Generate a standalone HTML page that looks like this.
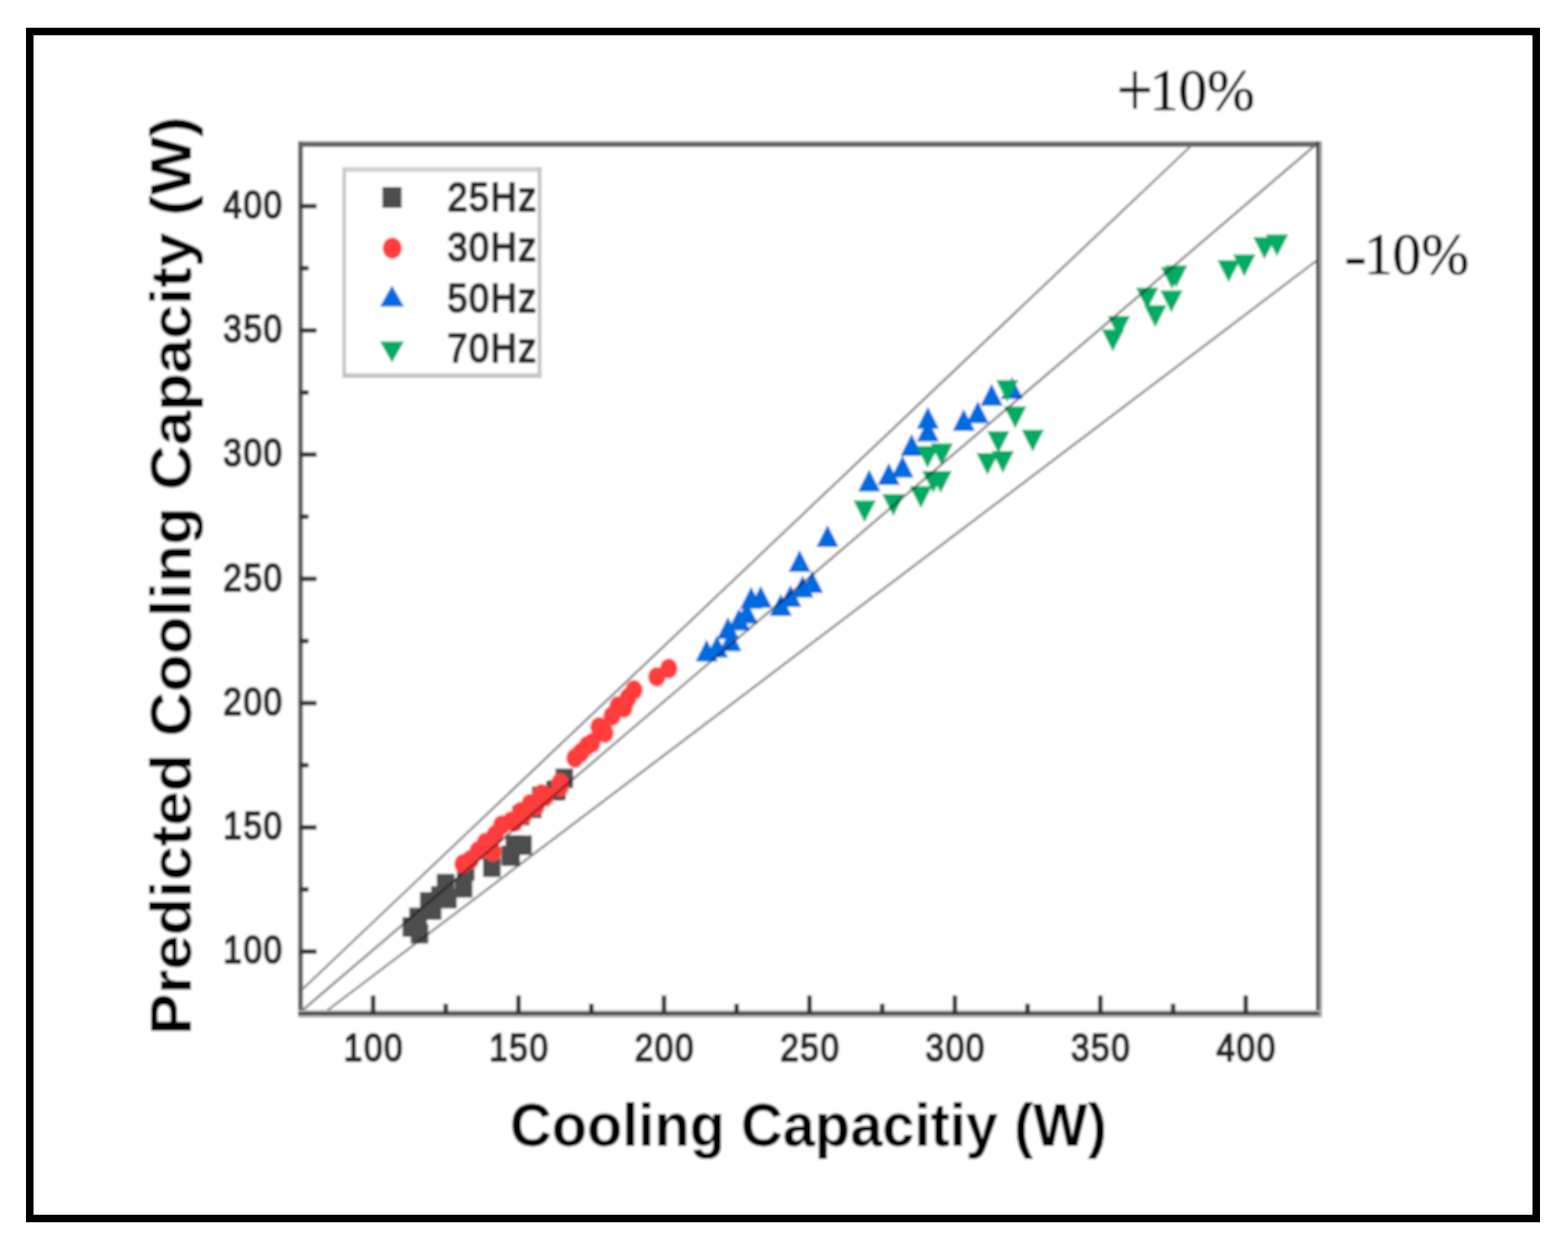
<!DOCTYPE html>
<html><head><meta charset="utf-8"><title>Cooling capacity plot</title>
<style>html,body{margin:0;padding:0;background:#fff;}svg{display:block;}</style>
</head><body>
<svg width="1560" height="1251" viewBox="0 0 1560 1251">
<rect width="1560" height="1251" fill="#fff"/>
<defs><filter id="bl" x="0" y="0" width="1" height="1"><feGaussianBlur stdDeviation="1.0"/></filter></defs>
<g filter="url(#bl)">
<rect width="1560" height="1251" fill="#fff"/>
<g>
<rect x="402.6" y="917.2" width="17.6" height="19.6" fill="#4d4d4d"/>
<rect x="410.7" y="923.9" width="17.6" height="19.6" fill="#4d4d4d"/>
<rect x="409.2" y="907.6" width="17.6" height="19.6" fill="#4d4d4d"/>
<rect x="423.8" y="900.3" width="17.6" height="19.6" fill="#4d4d4d"/>
<rect x="419.9" y="892.0" width="17.6" height="19.6" fill="#4d4d4d"/>
<rect x="439.1" y="888.8" width="17.6" height="19.6" fill="#4d4d4d"/>
<rect x="436.8" y="873.8" width="17.6" height="19.6" fill="#4d4d4d"/>
<rect x="431.1" y="886.2" width="17.6" height="19.6" fill="#4d4d4d"/>
<rect x="454.8" y="878.0" width="17.6" height="19.6" fill="#4d4d4d"/>
<rect x="456.9" y="861.2" width="17.6" height="19.6" fill="#4d4d4d"/>
<rect x="483.0" y="857.5" width="17.6" height="19.6" fill="#4d4d4d"/>
<rect x="501.4" y="845.7" width="17.6" height="19.6" fill="#4d4d4d"/>
<rect x="514.2" y="835.4" width="17.6" height="19.6" fill="#4d4d4d"/>
<rect x="505.6" y="835.3" width="17.6" height="19.6" fill="#4d4d4d"/>
<rect x="502.4" y="846.5" width="17.6" height="19.6" fill="#4d4d4d"/>
<rect x="512.0" y="805.8" width="17.6" height="19.6" fill="#4d4d4d"/>
<rect x="523.9" y="798.6" width="17.6" height="19.6" fill="#4d4d4d"/>
<rect x="531.9" y="786.6" width="17.6" height="19.6" fill="#4d4d4d"/>
<rect x="546.3" y="781.0" width="17.6" height="19.6" fill="#4d4d4d"/>
<rect x="555.5" y="768.6" width="17.6" height="19.6" fill="#4d4d4d"/>
<rect x="548.2" y="780.2" width="17.6" height="19.6" fill="#4d4d4d"/>
<ellipse cx="470.4" cy="859.7" rx="8.7" ry="9.9" fill="#ff3d3d"/>
<ellipse cx="493.0" cy="852.0" rx="8.7" ry="9.9" fill="#ff3d3d"/>
<ellipse cx="485.4" cy="842.4" rx="8.7" ry="9.9" fill="#ff3d3d"/>
<ellipse cx="501.6" cy="825.2" rx="8.7" ry="9.9" fill="#ff3d3d"/>
<ellipse cx="511.2" cy="821.2" rx="8.7" ry="9.9" fill="#ff3d3d"/>
<ellipse cx="520.8" cy="811.6" rx="8.7" ry="9.9" fill="#ff3d3d"/>
<ellipse cx="530.3" cy="803.6" rx="8.7" ry="9.9" fill="#ff3d3d"/>
<ellipse cx="541.5" cy="794.0" rx="8.7" ry="9.9" fill="#ff3d3d"/>
<ellipse cx="559.9" cy="782.8" rx="8.7" ry="9.9" fill="#ff3d3d"/>
<ellipse cx="580.8" cy="752.7" rx="8.7" ry="9.9" fill="#ff3d3d"/>
<ellipse cx="592.0" cy="743.0" rx="8.7" ry="9.9" fill="#ff3d3d"/>
<ellipse cx="599.0" cy="727.0" rx="8.7" ry="9.9" fill="#ff3d3d"/>
<ellipse cx="605.0" cy="733.0" rx="8.7" ry="9.9" fill="#ff3d3d"/>
<ellipse cx="618.0" cy="706.0" rx="8.7" ry="9.9" fill="#ff3d3d"/>
<ellipse cx="624.0" cy="708.0" rx="8.7" ry="9.9" fill="#ff3d3d"/>
<ellipse cx="634.0" cy="690.0" rx="8.7" ry="9.9" fill="#ff3d3d"/>
<ellipse cx="656.9" cy="676.8" rx="8.7" ry="9.9" fill="#ff3d3d"/>
<ellipse cx="668.8" cy="668.5" rx="8.7" ry="9.9" fill="#ff3d3d"/>
<ellipse cx="612.0" cy="716.0" rx="8.7" ry="9.9" fill="#ff3d3d"/>
<ellipse cx="628.0" cy="698.0" rx="8.7" ry="9.9" fill="#ff3d3d"/>
<ellipse cx="495.0" cy="835.0" rx="8.7" ry="9.9" fill="#ff3d3d"/>
<ellipse cx="514.6" cy="822.2" rx="8.7" ry="9.9" fill="#ff3d3d"/>
<ellipse cx="524.1" cy="814.2" rx="8.7" ry="9.9" fill="#ff3d3d"/>
<ellipse cx="536.1" cy="806.2" rx="8.7" ry="9.9" fill="#ff3d3d"/>
<ellipse cx="545.7" cy="796.6" rx="8.7" ry="9.9" fill="#ff3d3d"/>
<ellipse cx="560.1" cy="787.0" rx="8.7" ry="9.9" fill="#ff3d3d"/>
<ellipse cx="587.0" cy="746.0" rx="8.7" ry="9.9" fill="#ff3d3d"/>
<ellipse cx="575.0" cy="758.0" rx="8.7" ry="9.9" fill="#ff3d3d"/>
<ellipse cx="478.0" cy="851.0" rx="8.7" ry="9.9" fill="#ff3d3d"/>
<ellipse cx="463.0" cy="864.0" rx="8.7" ry="9.9" fill="#ff3d3d"/>
<path d="M706.6 639.5L717.8 661.5L695.5 661.5Z" fill="#006ae0"/>
<path d="M716.9 635.4L728.0 657.4L705.8 657.4Z" fill="#006ae0"/>
<path d="M730.5 629.3L741.6 651.3L719.4 651.3Z" fill="#006ae0"/>
<path d="M728.0 617.0L739.1 639.0L716.9 639.0Z" fill="#006ae0"/>
<path d="M738.9 608.5L750.0 630.5L727.8 630.5Z" fill="#006ae0"/>
<path d="M746.8 601.5L757.9 623.5L735.6 623.5Z" fill="#006ae0"/>
<path d="M751.1 586.7L762.2 608.7L740.0 608.7Z" fill="#006ae0"/>
<path d="M760.7 585.7L771.9 607.7L749.6 607.7Z" fill="#006ae0"/>
<path d="M780.8 594.1L791.9 616.1L769.6 616.1Z" fill="#006ae0"/>
<path d="M790.4 585.1L801.5 607.1L779.2 607.1Z" fill="#006ae0"/>
<path d="M802.5 575.5L813.6 597.5L791.4 597.5Z" fill="#006ae0"/>
<path d="M812.1 571.1L823.2 593.1L801.0 593.1Z" fill="#006ae0"/>
<path d="M799.6 550.1L810.8 572.1L788.5 572.1Z" fill="#006ae0"/>
<path d="M827.5 525.0L838.6 547.0L816.4 547.0Z" fill="#006ae0"/>
<path d="M869.2 469.5L880.4 491.5L858.1 491.5Z" fill="#006ae0"/>
<path d="M888.8 463.1L899.9 485.1L877.6 485.1Z" fill="#006ae0"/>
<path d="M902.5 455.5L913.6 477.5L891.4 477.5Z" fill="#006ae0"/>
<path d="M911.6 434.0L922.8 456.0L900.5 456.0Z" fill="#006ae0"/>
<path d="M927.9 406.8L939.0 428.8L916.8 428.8Z" fill="#006ae0"/>
<path d="M927.9 419.4L939.0 441.4L916.8 441.4Z" fill="#006ae0"/>
<path d="M963.7 409.1L974.9 431.1L952.6 431.1Z" fill="#006ae0"/>
<path d="M977.8 401.2L988.9 423.2L966.6 423.2Z" fill="#006ae0"/>
<path d="M991.6 383.8L1002.8 405.8L980.5 405.8Z" fill="#006ae0"/>
<path d="M1012.0 377.0L1023.1 399.0L1000.9 399.0Z" fill="#006ae0"/>
<path d="M853.5 500.5L875.8 500.5L864.6 522.5Z" fill="#00ab63"/>
<path d="M882.2 494.0L904.5 494.0L893.4 516.0Z" fill="#00ab63"/>
<path d="M909.8 486.3L932.0 486.3L920.9 508.3Z" fill="#00ab63"/>
<path d="M916.5 446.0L938.8 446.0L927.6 468.0Z" fill="#00ab63"/>
<path d="M930.6 443.4L952.9 443.4L941.7 465.4Z" fill="#00ab63"/>
<path d="M929.6 470.9L951.9 470.9L940.7 492.9Z" fill="#00ab63"/>
<path d="M922.2 470.9L944.5 470.9L933.4 492.9Z" fill="#00ab63"/>
<path d="M996.1 380.0L1018.4 380.0L1007.2 402.0Z" fill="#00ab63"/>
<path d="M1004.1 406.6L1026.4 406.6L1015.2 428.6Z" fill="#00ab63"/>
<path d="M1021.6 429.7L1043.9 429.7L1032.7 451.7Z" fill="#00ab63"/>
<path d="M987.2 431.3L1009.5 431.3L998.4 453.3Z" fill="#00ab63"/>
<path d="M976.4 453.0L998.6 453.0L987.5 475.0Z" fill="#00ab63"/>
<path d="M991.8 450.9L1014.0 450.9L1002.9 472.9Z" fill="#00ab63"/>
<path d="M1101.8 329.5L1124.1 329.5L1112.9 351.5Z" fill="#00ab63"/>
<path d="M1107.8 316.0L1130.1 316.0L1118.9 338.0Z" fill="#00ab63"/>
<path d="M1136.0 287.8L1158.4 287.8L1147.2 309.8Z" fill="#00ab63"/>
<path d="M1144.1 305.3L1166.5 305.3L1155.3 327.3Z" fill="#00ab63"/>
<path d="M1160.2 290.4L1182.6 290.4L1171.4 312.4Z" fill="#00ab63"/>
<path d="M1165.0 265.5L1187.4 265.5L1176.2 287.5Z" fill="#00ab63"/>
<path d="M1160.8 267.0L1183.2 267.0L1172.0 289.0Z" fill="#00ab63"/>
<path d="M1217.5 260.2L1239.9 260.2L1228.7 282.2Z" fill="#00ab63"/>
<path d="M1233.1 254.6L1255.5 254.6L1244.3 276.6Z" fill="#00ab63"/>
<path d="M1253.3 237.3L1275.7 237.3L1264.5 259.3Z" fill="#00ab63"/>
<path d="M1265.8 234.5L1288.2 234.5L1277.0 256.5Z" fill="#00ab63"/>
</g>
<g style="mix-blend-mode:multiply" stroke="#888" stroke-width="2.4" fill="none">
<line x1="300.6" y1="991" x2="1193" y2="144"/>
<line x1="301" y1="1011.5" x2="1316.7" y2="144"/>
<line x1="327.4" y1="1010.4" x2="1316.3" y2="260.9"/>
</g>
<rect x="298" y="141.5" width="5" height="874" fill="#626262"/>
<rect x="298" y="141.5" width="1022" height="5.5" fill="#666"/>
<rect x="1316" y="141.5" width="3.2" height="874" fill="#3c3c3c"/>
<rect x="1319.2" y="141.5" width="2.8" height="874" fill="#999"/>
<rect x="298" y="1010" width="1024" height="2" fill="#b0b0b0"/>
<rect x="298" y="1012" width="1021" height="3" fill="#333"/>
<rect x="298" y="1015" width="1024" height="2.6" fill="#aaa"/>
<rect x="370.8" y="995.5" width="4.6" height="17" fill="#333"/>
<rect x="516.2" y="995.5" width="4.6" height="17" fill="#333"/>
<rect x="661.7" y="995.5" width="4.6" height="17" fill="#333"/>
<rect x="807.2" y="995.5" width="4.6" height="17" fill="#333"/>
<rect x="952.6" y="995.5" width="4.6" height="17" fill="#333"/>
<rect x="1098.0" y="995.5" width="4.6" height="17" fill="#333"/>
<rect x="1243.5" y="995.5" width="4.6" height="17" fill="#333"/>
<rect x="443.5" y="1003.8" width="4.6" height="9" fill="#333"/>
<rect x="589.0" y="1003.8" width="4.6" height="9" fill="#333"/>
<rect x="734.4" y="1003.8" width="4.6" height="9" fill="#333"/>
<rect x="879.9" y="1003.8" width="4.6" height="9" fill="#333"/>
<rect x="1025.3" y="1003.8" width="4.6" height="9" fill="#333"/>
<rect x="1170.8" y="1003.8" width="4.6" height="9" fill="#333"/>
<rect x="300" y="949.3" width="16.5" height="4.6" fill="#333"/>
<rect x="300" y="825.1" width="16.5" height="4.6" fill="#333"/>
<rect x="300" y="700.8" width="16.5" height="4.6" fill="#333"/>
<rect x="300" y="576.6" width="16.5" height="4.6" fill="#333"/>
<rect x="300" y="452.3" width="16.5" height="4.6" fill="#333"/>
<rect x="300" y="328.1" width="16.5" height="4.6" fill="#333"/>
<rect x="300" y="203.8" width="16.5" height="4.6" fill="#333"/>
<rect x="300" y="887.2" width="8.5" height="4.6" fill="#333"/>
<rect x="300" y="762.9" width="8.5" height="4.6" fill="#333"/>
<rect x="300" y="638.7" width="8.5" height="4.6" fill="#333"/>
<rect x="300" y="514.4" width="8.5" height="4.6" fill="#333"/>
<rect x="300" y="390.2" width="8.5" height="4.6" fill="#333"/>
<rect x="300" y="265.9" width="8.5" height="4.6" fill="#333"/>
<text transform="translate(374.0 1060.5) scale(0.875 1)" text-anchor="middle" font-size="38" letter-spacing="1.9" font-family="Liberation Sans, Arial, sans-serif" fill="#262626" stroke="#262626" stroke-width="2.0" stroke-linejoin="round">100</text>
<text transform="translate(519.4 1060.5) scale(0.875 1)" text-anchor="middle" font-size="38" letter-spacing="1.9" font-family="Liberation Sans, Arial, sans-serif" fill="#262626" stroke="#262626" stroke-width="2.0" stroke-linejoin="round">150</text>
<text transform="translate(664.9 1060.5) scale(0.875 1)" text-anchor="middle" font-size="38" letter-spacing="1.9" font-family="Liberation Sans, Arial, sans-serif" fill="#262626" stroke="#262626" stroke-width="2.0" stroke-linejoin="round">200</text>
<text transform="translate(810.4 1060.5) scale(0.875 1)" text-anchor="middle" font-size="38" letter-spacing="1.9" font-family="Liberation Sans, Arial, sans-serif" fill="#262626" stroke="#262626" stroke-width="2.0" stroke-linejoin="round">250</text>
<text transform="translate(955.8 1060.5) scale(0.875 1)" text-anchor="middle" font-size="38" letter-spacing="1.9" font-family="Liberation Sans, Arial, sans-serif" fill="#262626" stroke="#262626" stroke-width="2.0" stroke-linejoin="round">300</text>
<text transform="translate(1101.2 1060.5) scale(0.875 1)" text-anchor="middle" font-size="38" letter-spacing="1.9" font-family="Liberation Sans, Arial, sans-serif" fill="#262626" stroke="#262626" stroke-width="2.0" stroke-linejoin="round">350</text>
<text transform="translate(1246.7 1060.5) scale(0.875 1)" text-anchor="middle" font-size="38" letter-spacing="1.9" font-family="Liberation Sans, Arial, sans-serif" fill="#262626" stroke="#262626" stroke-width="2.0" stroke-linejoin="round">400</text>
<text transform="translate(283.7 963.2) scale(0.875 1)" text-anchor="end" font-size="38" letter-spacing="1.9" font-family="Liberation Sans, Arial, sans-serif" fill="#262626" stroke="#262626" stroke-width="2.0" stroke-linejoin="round">100</text>
<text transform="translate(283.7 839.0) scale(0.875 1)" text-anchor="end" font-size="38" letter-spacing="1.9" font-family="Liberation Sans, Arial, sans-serif" fill="#262626" stroke="#262626" stroke-width="2.0" stroke-linejoin="round">150</text>
<text transform="translate(283.7 714.7) scale(0.875 1)" text-anchor="end" font-size="38" letter-spacing="1.9" font-family="Liberation Sans, Arial, sans-serif" fill="#262626" stroke="#262626" stroke-width="2.0" stroke-linejoin="round">200</text>
<text transform="translate(283.7 590.5) scale(0.875 1)" text-anchor="end" font-size="38" letter-spacing="1.9" font-family="Liberation Sans, Arial, sans-serif" fill="#262626" stroke="#262626" stroke-width="2.0" stroke-linejoin="round">250</text>
<text transform="translate(283.7 466.2) scale(0.875 1)" text-anchor="end" font-size="38" letter-spacing="1.9" font-family="Liberation Sans, Arial, sans-serif" fill="#262626" stroke="#262626" stroke-width="2.0" stroke-linejoin="round">300</text>
<text transform="translate(283.7 342.0) scale(0.875 1)" text-anchor="end" font-size="38" letter-spacing="1.9" font-family="Liberation Sans, Arial, sans-serif" fill="#262626" stroke="#262626" stroke-width="2.0" stroke-linejoin="round">350</text>
<text transform="translate(283.7 217.7) scale(0.875 1)" text-anchor="end" font-size="38" letter-spacing="1.9" font-family="Liberation Sans, Arial, sans-serif" fill="#262626" stroke="#262626" stroke-width="2.0" stroke-linejoin="round">400</text>
<text transform="translate(510 1145.5) scale(0.955 1)" font-size="60.5" font-weight="bold" font-family="Liberation Sans, Arial, sans-serif" fill="#000">Cooling Capacitiy (W)</text>
<text transform="translate(191 1034.8) rotate(-90) scale(1 0.94)" font-size="61.7" font-weight="bold" font-family="Liberation Sans, Arial, sans-serif" fill="#000">Predicted Cooling Capacity (W)</text>
<text transform="translate(1134.8 115.6) scale(1.07 1.3)" text-anchor="middle" font-size="60" font-family="Liberation Serif, Times New Roman, serif" fill="#111" stroke="#111" stroke-width="0.5">+</text>
<text transform="translate(1149.8 110) scale(0.954 1)" font-size="60" font-family="Liberation Serif, Times New Roman, serif" fill="#111" stroke="#111" stroke-width="0.7">10%</text>
<text transform="translate(1355.5 277.7) scale(1.15 1.15)" text-anchor="middle" font-size="60" font-family="Liberation Serif, Times New Roman, serif" fill="#111">-</text>
<text transform="translate(1364 274) scale(0.954 1)" font-size="60" font-family="Liberation Serif, Times New Roman, serif" fill="#111" stroke="#111" stroke-width="0.7">10%</text>
<rect x="343" y="167" width="198.5" height="211" fill="#fff"/>
<rect x="342.5" y="167" width="3.5" height="211" fill="#c4c4c4"/>
<rect x="342.5" y="167" width="199" height="4.8" fill="#d0d0d0"/>
<rect x="537.8" y="167" width="3.6" height="211" fill="#c4c4c4"/>
<rect x="342.5" y="373.3" width="199" height="4.6" fill="#c4c4c4"/>
<rect x="382.5" y="187.0" width="19" height="21" fill="#4d4d4d"/>
<ellipse cx="392.3" cy="248.2" rx="9.6" ry="10.6" fill="#ff3d3d"/>
<path d="M392.0 285.5L404.0 306.5L380.0 306.5Z" fill="#006ae0"/>
<path d="M380.0 341.5L404.0 341.5L392.0 362.5Z" fill="#00ab63"/>
<text transform="translate(447.5 210.6) scale(0.875 1)" font-size="41" letter-spacing="1.9" font-family="Liberation Sans, Arial, sans-serif" fill="#262626" stroke="#262626" stroke-width="2.0" stroke-linejoin="round">25Hz</text>
<text transform="translate(447.5 261.2) scale(0.875 1)" font-size="41" letter-spacing="1.9" font-family="Liberation Sans, Arial, sans-serif" fill="#262626" stroke="#262626" stroke-width="2.0" stroke-linejoin="round">30Hz</text>
<text transform="translate(447.5 311.8) scale(0.875 1)" font-size="41" letter-spacing="1.9" font-family="Liberation Sans, Arial, sans-serif" fill="#262626" stroke="#262626" stroke-width="2.0" stroke-linejoin="round">50Hz</text>
<text transform="translate(447.5 362.4) scale(0.875 1)" font-size="41" letter-spacing="1.9" font-family="Liberation Sans, Arial, sans-serif" fill="#262626" stroke="#262626" stroke-width="2.0" stroke-linejoin="round">70Hz</text>
</g>
<rect x="29.75" y="31.5" width="1506.5" height="1187" fill="none" stroke="#000" stroke-width="7.5"/>
</svg>
</body></html>
